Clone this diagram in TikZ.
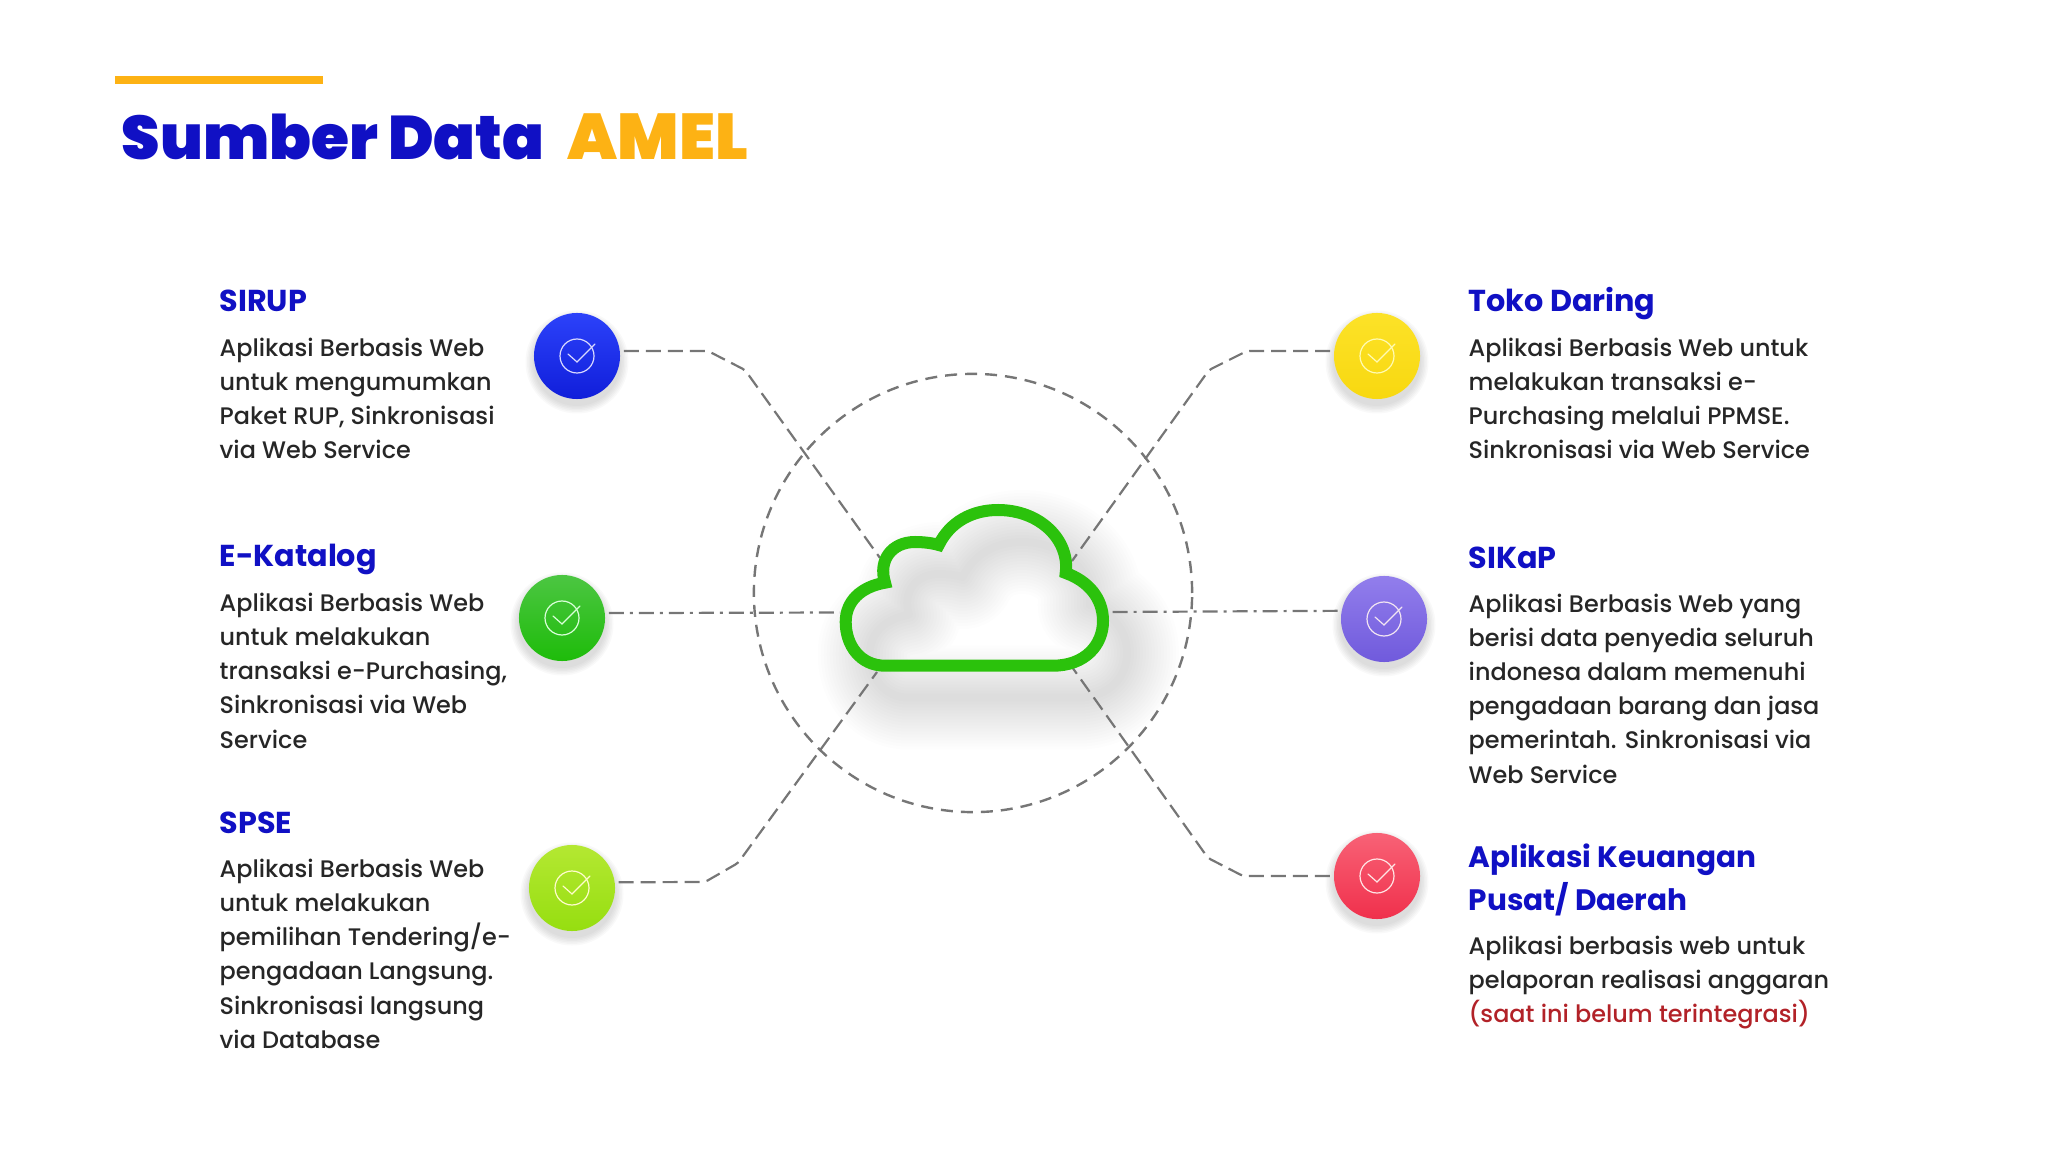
\documentclass[tikz,border=0pt]{standalone}
\usepackage{fontspec}
\usepackage{xcolor}
\setmainfont{Poppins}[UprightFont=* Medium,BoldFont=* Bold]
\newfontfamily\blackfont{Poppins}[UprightFont=* Black]
\definecolor{titleblue}{RGB}{16,16,196}
\definecolor{amber}{RGB}{253,178,20}
\definecolor{bodygray}{RGB}{38,38,38}
\definecolor{noticered}{RGB}{178,34,40}
\definecolor{linegray}{RGB}{118,118,118}
\definecolor{cloudgreen}{RGB}{43,194,12}
\definecolor{bluetop}{RGB}{44,66,250}
\definecolor{bluelow}{RGB}{16,30,218}
\definecolor{greentop}{RGB}{76,198,66}
\definecolor{greenlow}{RGB}{30,188,10}
\definecolor{limetop}{RGB}{180,232,50}
\definecolor{limelow}{RGB}{150,222,16}
\definecolor{yellowtop}{RGB}{252,226,40}
\definecolor{yellowlow}{RGB}{248,216,16}
\definecolor{violettop}{RGB}{146,126,236}
\definecolor{violetlow}{RGB}{112,90,220}
\definecolor{redtop}{RGB}{248,98,118}
\definecolor{redlow}{RGB}{240,48,76}
\usetikzlibrary{positioning,calc}
\newcommand{\cloudpath}{(885,665.7) .. controls (860,665.7) and (845.7,645) .. (845.7,622)
  .. controls (845.7,602) and (860,587) .. (885,582.7)
  .. controls (878,560) and (892,542) .. (915,542)
  .. controls (923,542) and (932,543) .. (938.7,545)
  .. controls (950,522) and (972,510) .. (998,510)
  .. controls (1040,510) and (1070,540) .. (1065.7,573)
  .. controls (1088,581) and (1103,598) .. (1103,621)
  .. controls (1103,645) and (1085,665.7) .. (1053,665.7) -- cycle}
\begin{document}
\begin{tikzpicture}[
    x=0.01cm, y=-0.01cm,
    ball/.style={circle, minimum size=0.86cm, inner sep=0pt, outer sep=0.04cm},
    checkline/.style={line width=0.012cm, line cap=round},
    link/.style={draw=linegray, line width=0.022cm, dash pattern=on 0.15cm off 0.07cm, rounded corners=0.03cm},
    dashdot/.style={draw=linegray, line width=0.022cm, dash pattern=on 0.15cm off 0.06cm on 0.03cm off 0.06cm},
    headtext/.style={anchor=base west, inner sep=0pt, text depth=0pt, font=\bfseries\fontsize{8.6}{12}\selectfont, text=titleblue},
    bodytext/.style={anchor=north west, inner sep=0pt, align=left, text=bodygray, font=\fontsize{6.8}{9.68}\selectfont},
    bighead/.style={headtext, align=left, font=\bfseries\fontsize{8.4}{11.95}\selectfont}
]
\useasboundingbox (0,0) rectangle (2048,1152);

% Title
\fill[amber] (115,76) rectangle (323,84);
\node[anchor=base west, inner sep=0pt, text=titleblue, font=\blackfont\fontsize{17.5}{20}\selectfont] (title) at (121,160) {Sumber Data};
\node[anchor=base west, inner sep=0pt, text=amber, font=\blackfont\fontsize{18.4}{20}\selectfont] (amel) at (567,160) {AMEL};

% Cloud shadow
\foreach \w in {8,14,...,104}
  \draw[black, opacity=0.009, line width=\w*0.01cm, line join=round, shift={(24,32)}] \cloudpath;

% Dashed ring
\node[circle, minimum size=4.38cm, inner sep=0pt, draw=linegray, line width=0.024cm, dash pattern=on 0.12cm off 0.08cm] (ring) at (973,593) {};

% Circles
\foreach \px/\py in {577/356,562/618,572/888,1377/356,1384/619,1377/876}
  \foreach \r in {44,45.5,...,52}
    \fill[black, opacity=0.022] (\px,\py+6) circle[radius=\r];
\node[ball, top color=bluetop, bottom color=bluelow] (sirup) at (577,356) {};
\node[ball, top color=greentop, bottom color=greenlow] (ekatalog) at (562,618) {};
\node[ball, top color=limetop, bottom color=limelow] (spse) at (572,888) {};
\node[ball, top color=yellowtop, bottom color=yellowlow] (toko) at (1377,356) {};
\node[ball, top color=violettop, bottom color=violetlow] (sikap) at (1384,619) {};
\node[ball, top color=redtop, bottom color=redlow] (keuangan) at (1377,876) {};

% Check marks
\foreach \n/\c in {sirup/blue!15!white, ekatalog/green!15!white, spse/yellow!20!white, toko/yellow!30!white, sikap/violet!10!white, keuangan/red!10!white} {
  \draw[checkline, draw=\c] (\n.center) circle[radius=17];
  \draw[checkline, draw=\c] ($(\n.center)+(-9,-2)$) -- ($(\n.center)+(0,6)$) -- ($(\n.center)+(18,-12)$);
}

% Cloud ends of the connectors
\coordinate (cloudnw) at (880,558);
\coordinate (cloudw) at (840,612.5);
\coordinate (cloudsw) at (877,672);
\coordinate (cloudne) at (1072,561);
\coordinate (cloude) at (1110,612);
\coordinate (cloudse) at (1072,667);

% Connectors
\draw[link] (sirup.6) -- (708,351) -- (745,370) -- (cloudnw);
\draw[dashdot] (ekatalog.6) -- (cloudw);
\draw[link] (spse.7) -- (705,882) -- (738,863) -- (cloudsw);
\draw[link] (toko.174) -- (1247,351) -- (1209,370) -- (cloudne);
\draw[dashdot] (sikap.170) -- (cloude);
\draw[link] (keuangan.west) -- (1243,876) -- (1208,858) -- (cloudse);

% Cloud
\draw[cloudgreen, line width=0.12cm, miter limit=6] \cloudpath;

% Left texts
\node[headtext] (siruphead) at (219,312) {SIRUP};
\node[bodytext, below=0.25cm of siruphead.south west, anchor=north west] (sirupbody) {Aplikasi Berbasis Web\\untuk mengumumkan\\Paket RUP, Sinkronisasi\\via Web Service};
\node[headtext] (ekataloghead) at (219,567) {E-Katalog};
\node[bodytext, below=0.25cm of ekataloghead.south west, anchor=north west] (ekatalogbody) {Aplikasi Berbasis Web\\untuk melakukan\\transaksi e-Purchasing,\\Sinkronisasi via Web\\Service};
\node[headtext] (spsehead) at (219,833) {SPSE};
\node[bodytext, below=0.25cm of spsehead.south west, anchor=north west] (spsebody) {Aplikasi Berbasis Web\\untuk melakukan\\pemilihan Tendering/e-\\pengadaan Langsung.\\Sinkronisasi langsung\\via Database};

% Right texts
\node[headtext] (tokohead) at (1468,312) {Toko Daring};
\node[bodytext, below=0.25cm of tokohead.south west, anchor=north west] (tokobody) {Aplikasi Berbasis Web untuk\\melakukan transaksi e-\\Purchasing melalui PPMSE.\\Sinkronisasi via Web Service};
\node[headtext] (sikaphead) at (1468,568) {SIKaP};
\node[bodytext, below=0.25cm of sikaphead.south west, anchor=north west] (sikapbody) {Aplikasi Berbasis Web yang\\berisi data penyedia seluruh\\indonesa dalam memenuhi\\pengadaan barang dan jasa\\pemerintah. Sinkronisasi via\\Web Service};
\node[bighead] (keuanganhead) at (1468,910) {Aplikasi Keuangan\\Pusat/ Daerah};
\node[bodytext, below=0.25cm of keuanganhead.south west, anchor=north west] (keuanganbody) {Aplikasi berbasis web untuk\\pelaporan realisasi anggaran\\{\color{noticered}(saat ini belum terintegrasi)}};

\end{tikzpicture}
\end{document}
